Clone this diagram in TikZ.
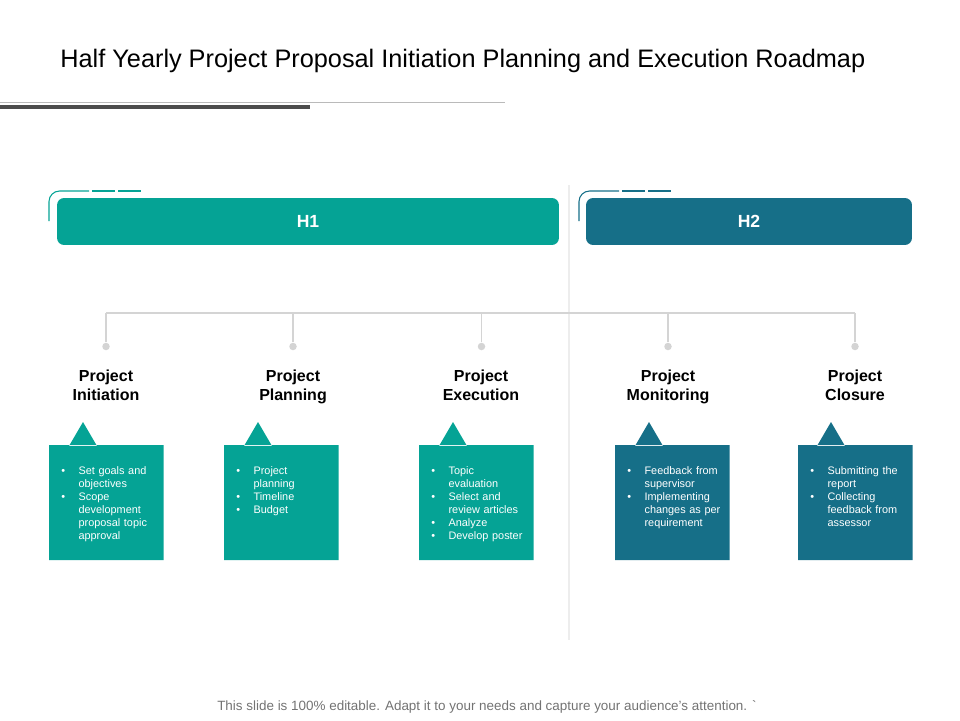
\documentclass[tikz,border=0pt]{standalone}
\usepackage{fontspec}
\setmainfont{Liberation Sans}
\definecolor{halfone}{HTML}{05A395}
\definecolor{halftwo}{HTML}{166F88}
\definecolor{linkgray}{HTML}{D4D4D4}
\newcommand{\bitem}[1]{\noindent\hangindent=9.8pt\hangafter=1\makebox[9.8pt][l]{\textbullet}#1\par}
\begin{document}
\begin{tikzpicture}[x=0.02cm, y=-0.02cm,
    bar/.style={rounded corners=4pt, text=white, inner sep=0pt, minimum height=0.94cm,
      font=\fontsize{10}{12}\selectfont\bfseries},
    deco/.style={line width=0.6pt},
    stagetitle/.style={anchor=north, align=center, inner sep=0pt,
      font=\fontsize{9.1}{10.8}\selectfont\bfseries},
    dot/.style={circle, fill=linkgray, inner sep=0pt, minimum size=0.15cm},
    bullets/.style={anchor=north west, inner sep=0pt, text=white, text width=1.95cm,
      align=left, font=\fontsize{6.2}{7.4}\selectfont}]
  \useasboundingbox (0,0) rectangle (960,720);
  \node[anchor=west, inner sep=0pt, font=\fontsize{14.4}{17}\selectfont] (title) at (60,61)
    {Half Yearly Project Proposal Initiation Planning and Execution Roadmap};
  \draw[color=black!27, line width=1.1pt] (0,102.5) -- (505,102.5);
  \draw[color=black!70, line width=2pt] (0,107) -- (310,107);
  \draw[black!7, line width=0.6pt] (569,185) -- (569,640);
  \draw[deco, halfone, rounded corners=6pt] (49,221) -- (49,191) -- (89,191);
  \draw[deco, halfone] (92,191) -- (115,191) (118,191) -- (141,191);
  \draw[deco, halftwo, rounded corners=6pt] (579,221) -- (579,191) -- (619,191);
  \draw[deco, halftwo] (622,191) -- (645,191) (648,191) -- (671,191);
  \node[bar, fill=halfone, minimum width=10.04cm] (h1) at (308,221.5) {H1};
  \node[bar, fill=halftwo, minimum width=6.52cm] (h2) at (749,221.5) {H2};
  \coordinate (left) at (106,313);
  \coordinate (right) at (855,313);
  \draw[linkgray, line width=0.6pt] (left) -- (right);
  \node[dot] (d1) at (106,346.5) {};
  \node[dot] (d2) at (293,346.5) {};
  \node[dot] (d3) at (481.5,346.5) {};
  \node[dot] (d4) at (668,346.5) {};
  \node[dot] (d5) at (855,346.5) {};
  \foreach \i in {1,...,5}
    \draw[linkgray, line width=0.6pt] (d\i) -- (d\i |- left);
  \node[stagetitle] (s1) at (106,370) {Project\\Initiation};
  \node[stagetitle] (s2) at (293,370) {Project\\Planning};
  \node[stagetitle] (s3) at (481,370) {Project\\Execution};
  \node[stagetitle] (s4) at (668,370) {Project\\Monitoring};
  \node[stagetitle] (s5) at (855,370) {Project\\Closure};
  \foreach \l/\t/\c in {49/83/halfone, 224/258/halfone, 419/453/halfone,
      615/649/halftwo, 798/831/halftwo}
    \fill[\c] (\t-14,446) -- (\t,422) -- (\t+14,446) -- cycle
      (\l,445) rectangle (\l+114.5,560);
  \node[bullets] (b1) at (61,466)
    {\bitem{Set goals and\newline objectives}\bitem{Scope\newline development\newline proposal topic\newline approval}};
  \node[bullets] (b2) at (236,466)
    {\bitem{Project\newline planning}\bitem{Timeline}\bitem{Budget}};
  \node[bullets] (b3) at (431,466)
    {\bitem{Topic\newline evaluation}\bitem{Select and\newline review articles}\bitem{Analyze}\bitem{Develop poster}};
  \node[bullets] (b4) at (627,466)
    {\bitem{Feedback from\newline supervisor}\bitem{Implementing\newline changes as per\newline requirement}};
  \node[bullets] (b5) at (810,466)
    {\bitem{Submitting the\newline report}\bitem{Collecting\newline feedback from\newline assessor}};
  \node[text=black!55, inner sep=0pt, font=\fontsize{7.65}{9}\selectfont] (note) at (487,707)
    {This slide is 100\% editable. Adapt it to your needs and capture your audience's attention. \textasciigrave};
\end{tikzpicture}
\end{document}
